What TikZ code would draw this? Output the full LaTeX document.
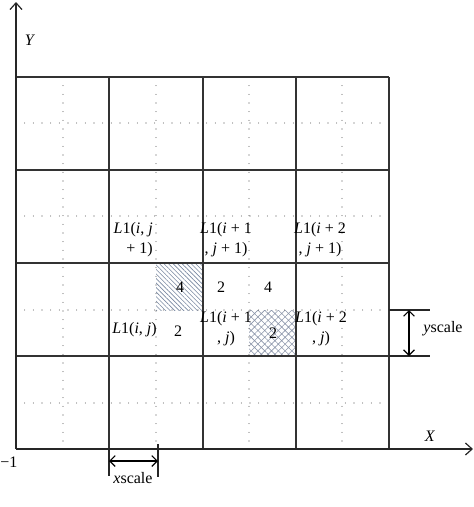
\documentclass[tikz,border=0pt]{standalone}
\usepackage{fontspec}
\setmainfont{Liberation Serif}
\usetikzlibrary{arrows.meta,patterns.meta}
\begin{document}
\begin{tikzpicture}[x=0.75pt,y=-0.75pt,
  gridline/.style={line width=1.1pt,draw=black!80},
  dotline/.style={draw=black!70,line width=0.8pt,line cap=round,dash pattern=on 0pt off 6.5pt},
  axisline/.style={line width=1.1pt,draw=black!85,-{Straight Barb[length=5pt,width=9pt,line width=0.9pt]}},
  scaleline/.style={line width=1.1pt,draw=black!85},
  scalearrow/.style={line width=0.9pt,draw=black,{Straight Barb[length=4pt,width=8pt]}-{Straight Barb[length=4pt,width=8pt]}},
  txt/.style={inner sep=0pt,font=\fontsize{12}{15}\selectfont},
  lbl/.style={txt,align=center}]
\useasboundingbox (0,0) rectangle (474,507);
% hatched cells
\fill[pattern={Lines[angle=-45,distance=2.4pt,line width=0.45pt]},pattern color={rgb,255:red,120;green,135;blue,160}] (156,263) rectangle (203,310);
\fill[pattern={Hatch[angle=45,distance=3.6pt,line width=0.45pt]},pattern color={rgb,255:red,140;green,150;blue,170}] (249,310) rectangle (296,356);
% dotted lines
\foreach \v in {63,156,249,342} \draw[dotline] (\v,77) -- (\v,449);
\foreach \h in {123,216,310,403} \draw[dotline] (16,\h) -- (389,\h);
% solid grid
\foreach \v in {109,203,296,389} \draw[gridline] (\v,77) -- (\v,449);
\foreach \h in {77,170,263,356} \draw[gridline] (16,\h) -- (389,\h);
% axes
\coordinate (O) at (16,449);
\coordinate (Yend) at (16,2);
\coordinate (Xend) at (473,449);
\draw[axisline] (O) -- (Yend);
\draw[axisline] (O) -- (Xend);
\node[txt] (Ylab) at (30,40) {\textit{Y}};
\node[txt] (Xlab) at (430,436) {\textit{X}};
\node[txt,anchor=west] (m1) at (0,462) {−1};
% numbers
\node[txt] (n1) at (180,287) {4};
\node[txt] (n2) at (221,287) {2};
\node[txt] (n3) at (268,287) {4};
\node[txt] (n4) at (178,331) {2};
\node[txt] (n5) at (273,333) {2};
% labels
\node[txt,align=right,anchor=east] (a) at (153,240) {\textit{L}1(\textit{i}, \textit{j}\\+ 1)};
\node[lbl] (b) at (226,240) {\textit{L}1(\textit{i} + 1\\, \textit{j} + 1)};
\node[lbl] (c) at (320,240) {\textit{L}1(\textit{i} + 2\\, \textit{j} + 1)};
\node[lbl] (d) at (134.5,330) {\textit{L}1(\textit{i}, \textit{j})};
\node[lbl] (e) at (226,329) {\textit{L}1(\textit{i} + 1\\, \textit{j})};
\node[lbl] (f) at (321,329) {\textit{L}1(\textit{i} + 2\\, \textit{j})};
% yscale
\coordinate (ys1) at (389,310);
\coordinate (ys1e) at (430,310);
\coordinate (ys2) at (389,356);
\coordinate (ys2e) at (430,356);
\draw[scaleline] (ys1) -- (ys1e);
\draw[scaleline] (ys2) -- (ys2e);
\coordinate (ya) at (409,310);
\coordinate (yb) at (409,356);
\draw[scalearrow] (ya) -- (yb);
\node[txt] (ylab) at (443,329) {\textit{y}scale};
% xscale
\coordinate (xs1) at (109,449);
\coordinate (xs1e) at (109,476);
\coordinate (xs2) at (158,444);
\coordinate (xs2e) at (158,477);
\draw[scaleline] (xs1) -- (xs1e);
\draw[scaleline] (xs2) -- (xs2e);
\coordinate (xa) at (109,461);
\coordinate (xb) at (158,461);
\draw[scalearrow] (xa) -- (xb);
\node[txt] (xlab) at (133,478) {\textit{x}scale};
\end{tikzpicture}
\end{document}
